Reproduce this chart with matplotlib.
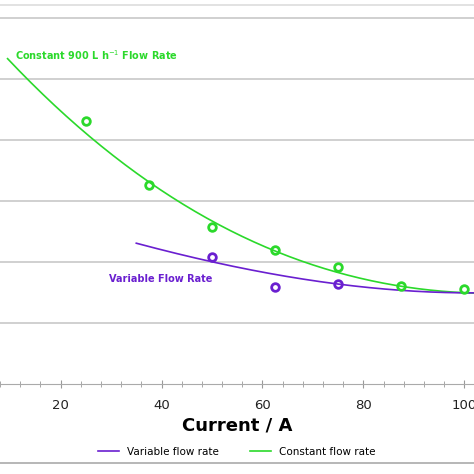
import matplotlib.pyplot as plt
import numpy as np
from matplotlib.lines import Line2D

# measured points
const_x = [25, 37.5, 50, 62.5, 75, 87.5, 100]
const_y = [4.31, 3.26, 2.57, 2.20, 1.92, 1.61, 1.56]
var_x = [50, 62.5, 75]
var_y = [2.08, 1.59, 1.64]

# trend lines
const_cx = [9.5, 25, 40, 50, 62.5, 75, 87.5, 100, 102]
const_cy = [5.31, 4.16, 3.13, 2.64, 2.20, 1.84, 1.59, 1.49, 1.49]
var_cx = [35, 50, 62.5, 75, 87.5, 100, 102]
var_cy = [2.30, 2.02, 1.77, 1.64, 1.54, 1.49, 1.49]

green = '#2bd92b'
purple = '#6a1fd0'

fig = plt.figure(figsize=(4.74, 4.74), dpi=100)
ax = fig.add_axes([0, 0.19, 1, 0.80])

for cx, cy, col in [(const_cx, const_cy, green), (var_cx, var_cy, purple)]:
    p = np.polyfit(cx, cy, 3)
    xs = np.linspace(cx[0], cx[-1], 200)
    ax.plot(xs, np.polyval(p, xs), color=col, lw=1.2)

ax.plot(const_x, const_y, 'o', mfc='none', mec=green, mew=2, ms=5.5)
ax.plot(var_x, var_y, 'o', mfc='none', mec=purple, mew=2, ms=5.5)

ax.set_xlim(8.0, 101.9)
ax.set_ylim(0, 6.21)
ax.set_yticks([1, 2, 3, 4, 5, 6])
ax.yaxis.grid(True, color='#c8c8c8', lw=1.2)
ax.tick_params(axis='y', left=False, labelleft=False)
ax.set_xticks([20, 40, 60, 80, 100])
ax.set_xticks(np.arange(8, 102, 4), minor=True)
ax.tick_params(axis='x', which='both', direction='inout', length=6, color='#999999',
               labelsize=9.5, pad=8, labelcolor='#222222')
ax.tick_params(axis='x', which='minor', length=4)
for s in ['left', 'right', 'top']:
    ax.spines[s].set_visible(False)
ax.spines['bottom'].set_color('#aaaaaa')
ax.axhline(6.21, color='#dddddd', lw=1.2, clip_on=False)

ax.set_xlabel('Current / A', fontsize=13, fontweight='bold', labelpad=3)
ax.text(11, 5.3, 'Constant 900 L h$^{-1}$ Flow Rate', color=green, fontsize=7, fontweight='bold')
ax.text(29.5, 1.67, 'Variable Flow Rate', color=purple, fontsize=7, fontweight='bold')

handles = [Line2D([], [], color=purple, lw=1.2), Line2D([], [], color=green, lw=1.2)]
fig.legend(handles, ['Variable flow rate', 'Constant flow rate'], loc='center',
           bbox_to_anchor=(0.5, 1 - 452/474), ncol=2, frameon=False, fontsize=7.5,
           handlelength=2, columnspacing=3)
fig.add_artist(Line2D([0, 1], [1 - 463/474] * 2, color='#aaaaaa', lw=1.2))

fig.savefig('out.png', dpi=100)
